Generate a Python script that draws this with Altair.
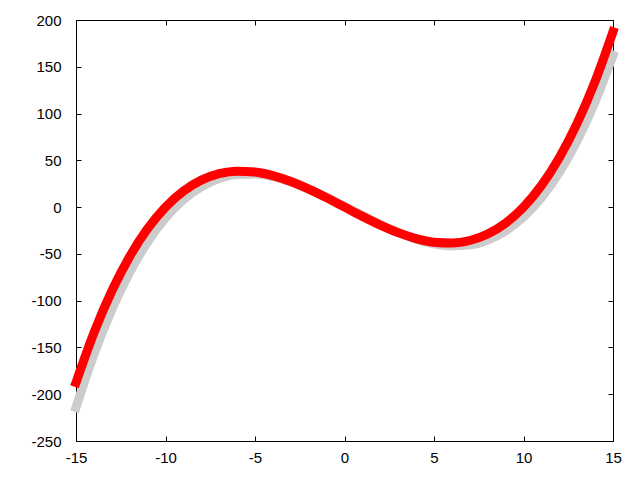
import altair as alt
import pandas as pd

x_vals = list(range(-15, 16))
red_vals = [-187.5, -134.4, -89.7, -52.8, -23.1, 0.0, 17.1, 28.8, 35.7, 38.4, 37.5,
            33.6, 27.3, 19.2, 9.9, 0.0, -9.9, -19.2, -27.3, -33.6, -37.5, -38.4,
            -35.7, -28.8, -17.1, 0.0, 23.1, 52.8, 89.7, 134.4, 187.5]
gray_vals = [-214.2, -157.6, -109.6, -69.7, -37.2, -11.5, 7.9, 21.7, 30.5, 34.8, 35.3,
             32.5, 27.1, 19.6, 10.7, 1.0, -9.0, -18.6, -27.2, -34.3, -39.3, -41.4,
             -40.3, -35.1, -25.4, -10.5, 10.1, 37.1, 71.0, 112.5, 162.2]
x_ticks = [-15, -10, -5, 0, 5, 10, 15]
y_ticks = [-250, -200, -150, -100, -50, 0, 50, 100, 150, 200]

W, H = 537, 421
FONT = "Liberation Sans"
LABEL_EXPR = "'' + datum.value"

df = pd.DataFrame({"x": x_vals, "red": red_vals, "gray": gray_vals})

xs = alt.Scale(domain=[-15, 15], nice=False, zero=False)
ys = alt.Scale(domain=[-250, 200], nice=False, zero=False)

base = alt.Chart(df)

# Layer 1: gray shadow curve + labelled axes (outside, no ticks)
gray = base.mark_line(color="#cccccc", strokeWidth=9, strokeCap="square",
                      interpolate="monotone", clip=False).encode(
    x=alt.X("x:Q", scale=xs, title=None,
            axis=alt.Axis(orient="bottom", values=x_ticks, tickSize=0, domain=False,
                          grid=False, labelPadding=9, labelFontSize=15, labelFont=FONT,
                          labelColor="black", labelExpr=LABEL_EXPR, labelFlush=False,
                          labelOverlap=False)),
    y=alt.Y("gray:Q", scale=ys, title=None,
            axis=alt.Axis(orient="left", values=y_ticks, tickSize=0, domain=False,
                          grid=False, labelPadding=15, labelFontSize=15, labelFont=FONT,
                          labelColor="black", labelExpr=LABEL_EXPR, labelFlush=False,
                          labelOverlap=False)),
)

# Layer 2: red curve + inward ticks at bottom and left
red = base.mark_line(color="#ff0000", strokeWidth=9, strokeCap="square",
                     interpolate="monotone", clip=False).encode(
    x=alt.X("x:Q", scale=xs, title=None,
            axis=alt.Axis(orient="top", offset=-H, values=x_ticks, labels=False,
                          tickSize=5, tickColor="black", domain=False, grid=False)),
    y=alt.Y("red:Q", scale=ys, title=None,
            axis=alt.Axis(orient="right", offset=-W, values=y_ticks, labels=False,
                          tickSize=5, tickColor="black", domain=False, grid=False)),
)

# Layer 3: invisible, mirrored inward ticks at top and right
mirror = base.mark_line(opacity=0).encode(
    x=alt.X("x:Q", scale=xs, title=None,
            axis=alt.Axis(orient="bottom", offset=-H, values=x_ticks, labels=False,
                          tickSize=5, tickColor="black", domain=False, grid=False)),
    y=alt.Y("red:Q", scale=ys, title=None,
            axis=alt.Axis(orient="left", offset=-W, values=y_ticks, labels=False,
                          tickSize=5, tickColor="black", domain=False, grid=False)),
)

chart = alt.layer(mirror, gray, red).resolve_scale(
    x="independent", y="independent"
).properties(
    width=W, height=H,
    autosize=alt.AutoSizeParams(type="none"),
    padding={"left": 68, "top": 12, "right": 19, "bottom": 25},
    background="white",
).configure_view(stroke="black", strokeWidth=1)

chart.save("out.html", embed_options={"renderer": "svg", "actions": False})
